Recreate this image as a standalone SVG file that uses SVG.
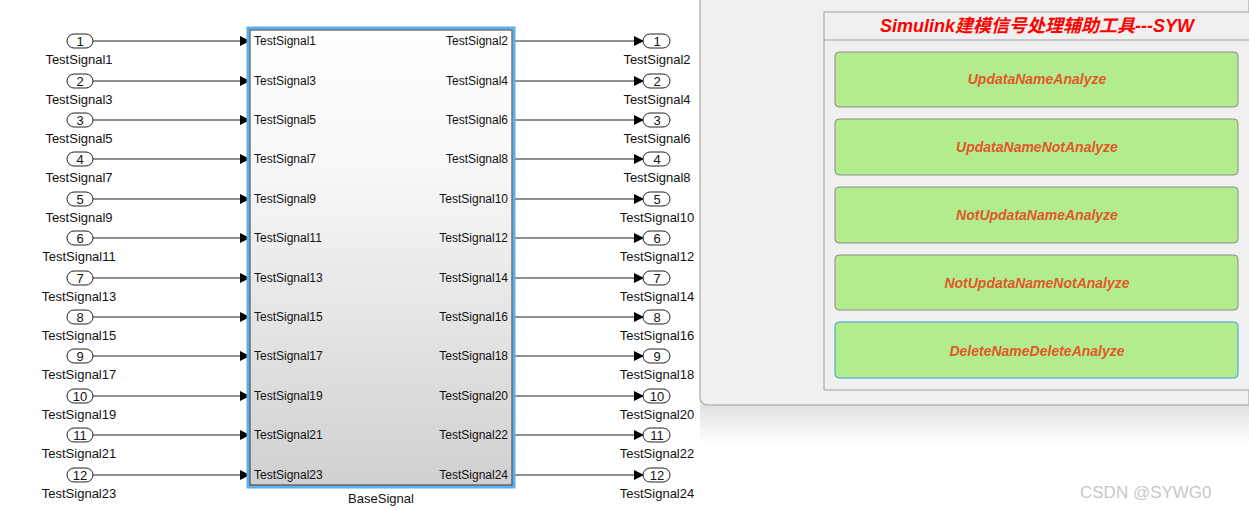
<svg xmlns="http://www.w3.org/2000/svg" width="1249" height="511" viewBox="0 0 1249 511">
<style>
text{font-family:"Liberation Sans",Arial,sans-serif;fill:#111}
.lbl{font-size:13px;text-anchor:middle}
.num{font-size:13px;text-anchor:middle}
.pin{font-size:12px}
.port{fill:#fff;stroke:#222;stroke-width:1}
.wire{stroke:#222;stroke-width:1;fill:none}
.btn{fill:#b3ec8c;stroke:#8c8c8c;stroke-width:1}
.btxt{font-size:14px;font-weight:bold;font-style:italic;fill:#e0592a;text-anchor:middle}
</style>
<defs>
<marker id="ah" markerWidth="10" markerHeight="10" refX="9" refY="5" orient="auto" markerUnits="userSpaceOnUse"><path d="M0,0 L10,5 L0,10 z" fill="#000"/></marker>
<linearGradient id="bg" x1="0" y1="0" x2="0" y2="1"><stop offset="0" stop-color="#ffffff"/><stop offset="0.3" stop-color="#f8f8f8"/><stop offset="1" stop-color="#d0d0d0"/></linearGradient>
<linearGradient id="sh" x1="0" y1="0" x2="0" y2="1"><stop offset="0" stop-color="#000" stop-opacity="0.12"/><stop offset="1" stop-color="#000" stop-opacity="0"/></linearGradient>
</defs>
<rect width="1249" height="511" fill="#fff"/>
<g id="connectors" class="wire" marker-end="url(#ah)">
<line x1="93" y1="41" x2="249" y2="41"/><line x1="93" y1="81" x2="249" y2="81"/><line x1="93" y1="120" x2="249" y2="120"/><line x1="93" y1="159" x2="249" y2="159"/><line x1="93" y1="199" x2="249" y2="199"/><line x1="93" y1="238" x2="249" y2="238"/><line x1="93" y1="278" x2="249" y2="278"/><line x1="93" y1="317" x2="249" y2="317"/><line x1="93" y1="356" x2="249" y2="356"/><line x1="93" y1="396" x2="249" y2="396"/><line x1="93" y1="435" x2="249" y2="435"/><line x1="93" y1="475" x2="249" y2="475"/>
<line x1="514" y1="41" x2="643" y2="41"/><line x1="514" y1="81" x2="643" y2="81"/><line x1="514" y1="120" x2="643" y2="120"/><line x1="514" y1="159" x2="643" y2="159"/><line x1="514" y1="199" x2="643" y2="199"/><line x1="514" y1="238" x2="643" y2="238"/><line x1="514" y1="278" x2="643" y2="278"/><line x1="514" y1="317" x2="643" y2="317"/><line x1="514" y1="356" x2="643" y2="356"/><line x1="514" y1="396" x2="643" y2="396"/><line x1="514" y1="435" x2="643" y2="435"/><line x1="514" y1="475" x2="643" y2="475"/>
</g>
<g id="inports">
<g id="in1"><rect class="port" x="67" y="34" width="26" height="14" rx="7"/><text class="num" x="80" y="46">1</text><text class="lbl" x="79" y="64">TestSignal1</text></g>
<g id="in2"><rect class="port" x="67" y="74" width="26" height="14" rx="7"/><text class="num" x="80" y="86">2</text><text class="lbl" x="79" y="104">TestSignal3</text></g>
<g id="in3"><rect class="port" x="67" y="113" width="26" height="14" rx="7"/><text class="num" x="80" y="125">3</text><text class="lbl" x="79" y="143">TestSignal5</text></g>
<g id="in4"><rect class="port" x="67" y="152" width="26" height="14" rx="7"/><text class="num" x="80" y="164">4</text><text class="lbl" x="79" y="182">TestSignal7</text></g>
<g id="in5"><rect class="port" x="67" y="192" width="26" height="14" rx="7"/><text class="num" x="80" y="204">5</text><text class="lbl" x="79" y="222">TestSignal9</text></g>
<g id="in6"><rect class="port" x="67" y="231" width="26" height="14" rx="7"/><text class="num" x="80" y="243">6</text><text class="lbl" x="79" y="261">TestSignal11</text></g>
<g id="in7"><rect class="port" x="67" y="271" width="26" height="14" rx="7"/><text class="num" x="80" y="283">7</text><text class="lbl" x="79" y="301">TestSignal13</text></g>
<g id="in8"><rect class="port" x="67" y="310" width="26" height="14" rx="7"/><text class="num" x="80" y="322">8</text><text class="lbl" x="79" y="340">TestSignal15</text></g>
<g id="in9"><rect class="port" x="67" y="349" width="26" height="14" rx="7"/><text class="num" x="80" y="361">9</text><text class="lbl" x="79" y="379">TestSignal17</text></g>
<g id="in10"><rect class="port" x="67" y="389" width="26" height="14" rx="7"/><text class="num" x="80" y="401">10</text><text class="lbl" x="79" y="419">TestSignal19</text></g>
<g id="in11"><rect class="port" x="67" y="428" width="26" height="14" rx="7"/><text class="num" x="80" y="440">11</text><text class="lbl" x="79" y="458">TestSignal21</text></g>
<g id="in12"><rect class="port" x="67" y="468" width="26" height="14" rx="7"/><text class="num" x="80" y="480">12</text><text class="lbl" x="79" y="498">TestSignal23</text></g>
</g>
<g id="outports">
<g id="out1"><rect class="port" x="643" y="34" width="27" height="14" rx="7"/><text class="num" x="657" y="46">1</text><text class="lbl" x="657" y="64">TestSignal2</text></g>
<g id="out2"><rect class="port" x="643" y="74" width="27" height="14" rx="7"/><text class="num" x="657" y="86">2</text><text class="lbl" x="657" y="104">TestSignal4</text></g>
<g id="out3"><rect class="port" x="643" y="113" width="27" height="14" rx="7"/><text class="num" x="657" y="125">3</text><text class="lbl" x="657" y="143">TestSignal6</text></g>
<g id="out4"><rect class="port" x="643" y="152" width="27" height="14" rx="7"/><text class="num" x="657" y="164">4</text><text class="lbl" x="657" y="182">TestSignal8</text></g>
<g id="out5"><rect class="port" x="643" y="192" width="27" height="14" rx="7"/><text class="num" x="657" y="204">5</text><text class="lbl" x="657" y="222">TestSignal10</text></g>
<g id="out6"><rect class="port" x="643" y="231" width="27" height="14" rx="7"/><text class="num" x="657" y="243">6</text><text class="lbl" x="657" y="261">TestSignal12</text></g>
<g id="out7"><rect class="port" x="643" y="271" width="27" height="14" rx="7"/><text class="num" x="657" y="283">7</text><text class="lbl" x="657" y="301">TestSignal14</text></g>
<g id="out8"><rect class="port" x="643" y="310" width="27" height="14" rx="7"/><text class="num" x="657" y="322">8</text><text class="lbl" x="657" y="340">TestSignal16</text></g>
<g id="out9"><rect class="port" x="643" y="349" width="27" height="14" rx="7"/><text class="num" x="657" y="361">9</text><text class="lbl" x="657" y="379">TestSignal18</text></g>
<g id="out10"><rect class="port" x="643" y="389" width="27" height="14" rx="7"/><text class="num" x="657" y="401">10</text><text class="lbl" x="657" y="419">TestSignal20</text></g>
<g id="out11"><rect class="port" x="643" y="428" width="27" height="14" rx="7"/><text class="num" x="657" y="440">11</text><text class="lbl" x="657" y="458">TestSignal22</text></g>
<g id="out12"><rect class="port" x="643" y="468" width="27" height="14" rx="7"/><text class="num" x="657" y="480">12</text><text class="lbl" x="657" y="498">TestSignal24</text></g>
</g>
<g id="BaseSignal">
<rect x="248" y="28" width="266" height="459" fill="url(#bg)" stroke="#5ab0ee" stroke-width="3"/>
<rect x="250" y="30" width="262" height="455" fill="none" stroke="#333" stroke-width="1"/>
<text class="lbl" x="381" y="503">BaseSignal</text>
<g class="pin">
<text x="254" y="45">TestSignal1</text><text x="254" y="85">TestSignal3</text><text x="254" y="124">TestSignal5</text><text x="254" y="163">TestSignal7</text><text x="254" y="203">TestSignal9</text><text x="254" y="242">TestSignal11</text><text x="254" y="282">TestSignal13</text><text x="254" y="321">TestSignal15</text><text x="254" y="360">TestSignal17</text><text x="254" y="400">TestSignal19</text><text x="254" y="439">TestSignal21</text><text x="254" y="479">TestSignal23</text>
</g>
<g class="pin" text-anchor="end">
<text x="508" y="45">TestSignal2</text><text x="508" y="85">TestSignal4</text><text x="508" y="124">TestSignal6</text><text x="508" y="163">TestSignal8</text><text x="508" y="203">TestSignal10</text><text x="508" y="242">TestSignal12</text><text x="508" y="282">TestSignal14</text><text x="508" y="321">TestSignal16</text><text x="508" y="360">TestSignal18</text><text x="508" y="400">TestSignal20</text><text x="508" y="439">TestSignal22</text><text x="508" y="479">TestSignal24</text>
</g>
</g>
<g id="toolWindow">
<rect x="700" y="405" width="549" height="40" fill="url(#sh)"/>
<path d="M700,-2 H1249 V405 H708 Q700,405 700,397 Z" fill="#f0f0f0" stroke="#b8b8b8" stroke-width="1.5"/>
<rect x="824" y="12" width="430" height="378" fill="#f0f0f0" stroke="#a0a0a0"/>
<line x1="824" y1="40" x2="1249" y2="40" stroke="#a0a0a0"/>
<text x="1037" y="32" font-size="18" font-weight="bold" font-style="italic" text-anchor="middle" style="fill:#ff0000;font-family:'Liberation Sans','Noto Sans CJK SC',sans-serif">Simulink建模信号处理辅助工具---SYW</text>
<g id="b1"><rect class="btn" x="835" y="52" width="403" height="55" rx="4"/><text class="btxt" x="1037" y="84">UpdataNameAnalyze</text></g>
<g id="b2"><rect class="btn" x="835" y="119" width="403" height="56" rx="4"/><text class="btxt" x="1037" y="152">UpdataNameNotAnalyze</text></g>
<g id="b3"><rect class="btn" x="835" y="187" width="403" height="56" rx="4"/><text class="btxt" x="1037" y="220">NotUpdataNameAnalyze</text></g>
<g id="b4"><rect class="btn" x="835" y="255" width="403" height="55" rx="4"/><text class="btxt" x="1037" y="288">NotUpdataNameNotAnalyze</text></g>
<g id="b5"><rect class="btn" x="835" y="322" width="403" height="56" rx="4" style="stroke:#3c9be0"/><text class="btxt" x="1037" y="356">DeleteNameDeleteAnalyze</text></g>
</g>
<text x="1080" y="498" font-size="17" style="fill:#c8c8c8">CSDN @SYWG0</text>
</svg>
